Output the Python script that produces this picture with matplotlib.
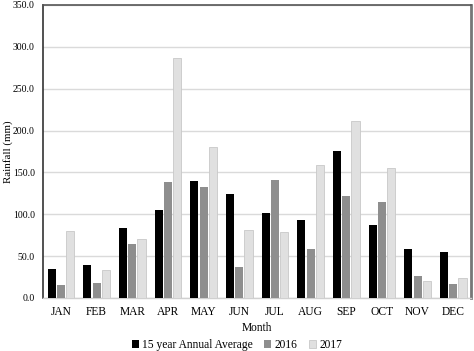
import numpy as np
import matplotlib.pyplot as plt

plt.rcParams['font.family'] = ['Liberation Serif', 'DejaVu Serif']

months = ['JAN', 'FEB', 'MAR', 'APR', 'MAY', 'JUN', 'JUL', 'AUG', 'SEP', 'OCT', 'NOV', 'DEC']
avg15 = [35, 40, 84, 105, 140, 124, 102, 93, 176, 87, 58, 55]
y2016 = [15, 18, 65, 139, 133, 37, 141, 58, 122, 115, 26, 17]
y2017 = [80, 34, 70, 287, 180, 81, 79, 159, 211, 155, 20, 24]

fig = plt.figure(figsize=(4.74, 3.51), dpi=100)
ax = fig.add_axes([0.091, 0.151, 0.903, 0.835])

x = np.arange(len(months))
w = 0.23
d = 0.26
ax.bar(x - d, avg15, w, color='black', label='15 year Annual Average', zorder=3)
ax.bar(x, y2016, w, color='#8e8e8e', label='2016', zorder=3)
ax.bar(x + d, y2017, w, color='#e0e0e0', edgecolor='#c8c8c8', linewidth=0.6,
       label='2017', zorder=3)

ax.set_xlim(-0.5, 11.5)
ax.set_ylim(0, 350)
ax.set_yticks(np.arange(0, 351, 50))
ax.set_yticklabels(['%.1f' % v for v in np.arange(0, 351, 50)])
ax.set_xticks(x)
ax.set_xticklabels(months)
ax.tick_params(axis='x', length=0, labelsize=8.3, pad=6)
ax.tick_params(axis='y', length=0, labelsize=7, pad=6)
ax.yaxis.grid(True, color='#dadada', linewidth=1, zorder=0)

ax.spines['left'].set_color('#333333')
ax.spines['left'].set_linewidth(1.2)
ax.spines['top'].set_color('#555555')
ax.spines['top'].set_linewidth(1.2)
ax.spines['right'].set_color('#777777')
ax.spines['right'].set_linewidth(2)
ax.spines['bottom'].set_color('#d0d0d0')
ax.spines['bottom'].set_linewidth(1)

ax.set_xlabel('Month', fontsize=8.3, labelpad=3)
ax.set_ylabel('Rainfall (mm)', fontsize=7.8)
ax.yaxis.set_label_coords(-0.07, 0.5)

fig.legend(loc='lower center', bbox_to_anchor=(0.5, -0.03), ncol=3, frameon=False,
           fontsize=8.3, handlelength=0.6, handleheight=0.6, handletextpad=0.3,
           columnspacing=1.0)

fig.savefig('out.png', dpi=100)
